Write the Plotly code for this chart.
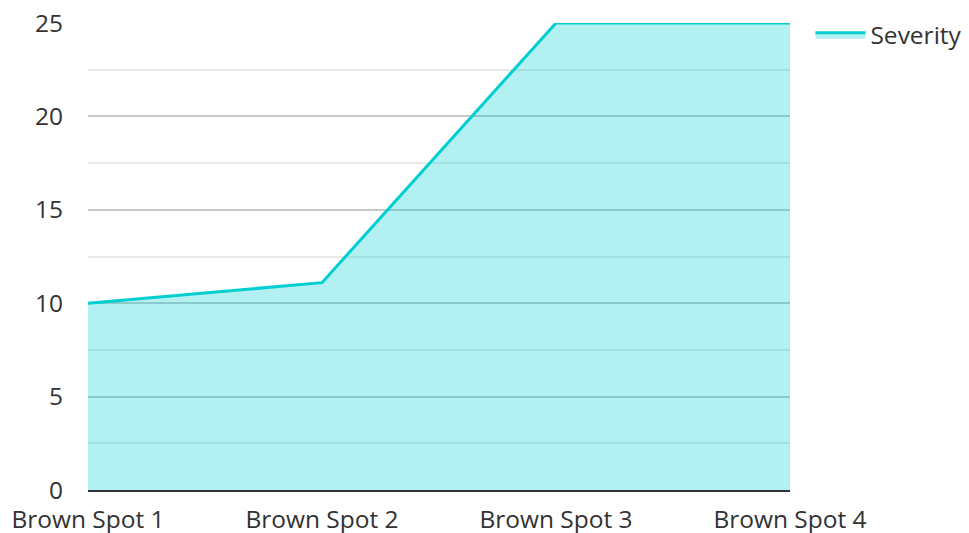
import plotly.graph_objects as go

categories = ["Brown Spot 1", "Brown Spot 2", "Brown Spot 3", "Brown Spot 4"]
severity = [10, 11.1, 25, 25]

fig = go.Figure()
fig.add_trace(go.Scatter(
    x=categories, y=severity, name="Severity", mode="lines",
    line=dict(color="#00CED1", width=3),
    fill="tozeroy", fillcolor="rgba(0,206,209,0.3)",
))

fig.update_layout(
    width=961, height=525,
    margin=dict(l=80, r=179, t=15, b=43),
    paper_bgcolor="white", plot_bgcolor="white",
    font=dict(family="Open Sans", size=24.5, color="#333333"),
    showlegend=True,
    legend=dict(xref="container", yref="container", x=0.835, y=0.992,
                xanchor="left", yanchor="top", itemwidth=50,
                font=dict(size=24.5, color="#333333"), bgcolor="rgba(0,0,0,0)"),
    xaxis=dict(range=[0, 3], showgrid=False, showline=True, linecolor="#333333",
               linewidth=2, ticks="", tickfont=dict(size=24.5), ticklabelstandoff=7,
               automargin=False, ticklabeloverflow="allow"),
    yaxis=dict(range=[0, 25], dtick=5, showgrid=True, gridcolor="#c8c8c8",
               gridwidth=2, zeroline=False, ticks="", ticklabelstandoff=24,
               tickfont=dict(size=24.5), automargin=False, ticklabeloverflow="allow",
               minor=dict(dtick=2.5, showgrid=True, gridcolor="#e8e8e8", gridwidth=1.5)),
)

fig.write_html("out.html")
